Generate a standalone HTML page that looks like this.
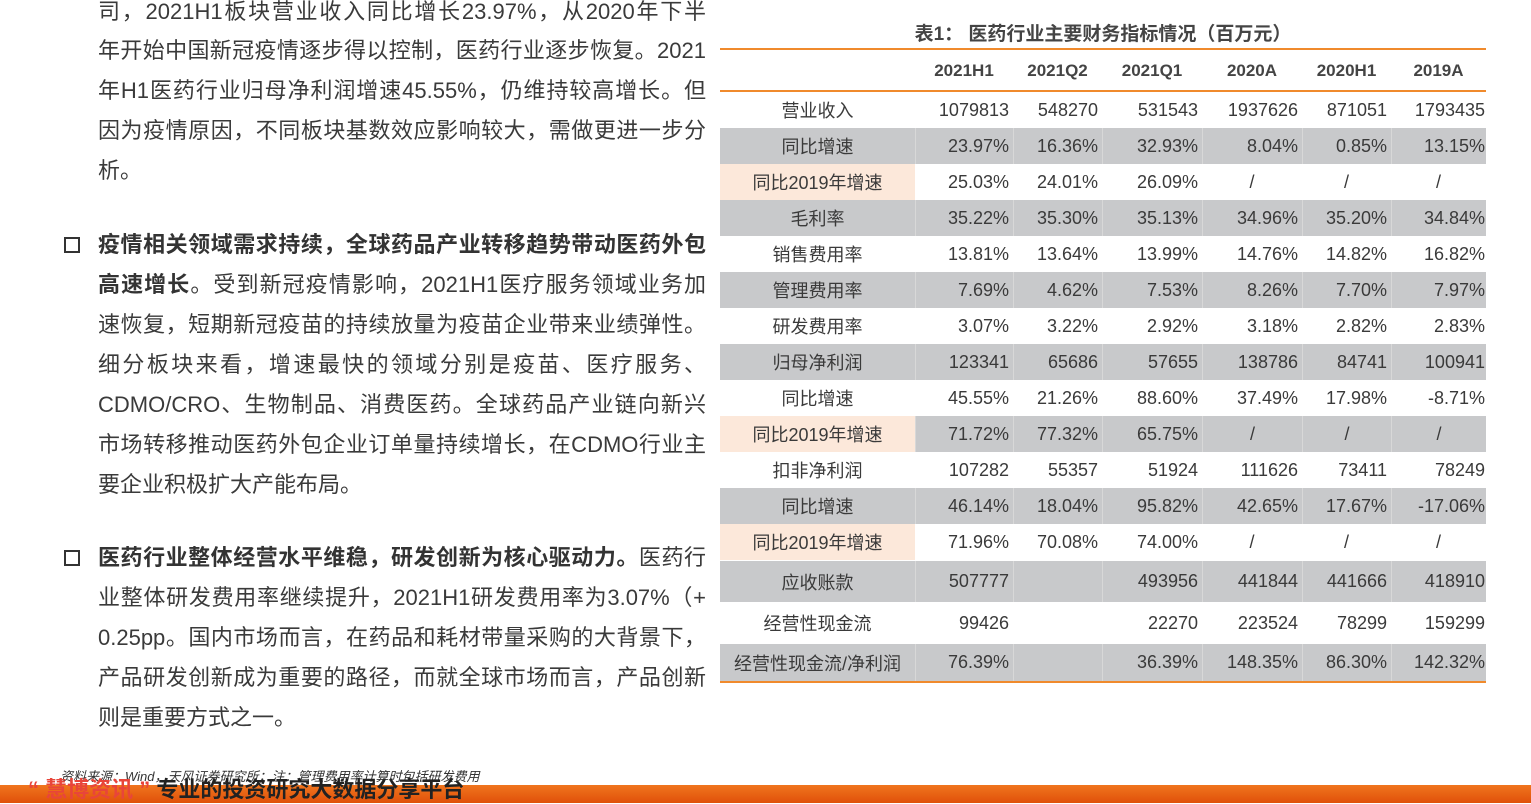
<!DOCTYPE html>
<html><head><meta charset="utf-8">
<style>
body{margin:0;width:1531px;height:803px;overflow:hidden;background:#fff;position:relative;font-family:"Liberation Sans","Noto Sans CJK SC",sans-serif;color:#3a3a3a}
.l{position:absolute;left:98px;width:608px;font-size:22px;line-height:26px;white-space:nowrap;text-align:justify;text-align-last:justify}
.nl{text-align-last:left}
b{font-weight:bold;color:#333}
.bx{position:absolute;left:64px;width:12px;height:12px;border:2.5px solid #333}
.row{position:absolute;left:720px;width:766px;height:36px;font-size:18px}
.row div{position:absolute;top:0;height:100%;display:flex;align-items:center;box-sizing:border-box}
.g{background:#c8c9cb}
.c0{left:0;width:195px;justify-content:center}
.p .c0{background:#fce8da}
.h{position:absolute;height:2px;background:#f08a2c;left:720px;width:766px}
</style></head><body>
<div class="l" style="top:-1px">司，2021H1板块营业收入同比增长23.97%，从2020年下半</div>
<div class="l" style="top:38px">年开始中国新冠疫情逐步得以控制，医药行业逐步恢复。2021</div>
<div class="l" style="top:78px">年H1医药行业归母净利润增速45.55%，仍维持较高增长。但</div>
<div class="l" style="top:118px">因为疫情原因，不同板块基数效应影响较大，需做更进一步分</div>
<div class="l nl" style="top:158px">析。</div>
<div class="bx" style="top:237px"></div>
<div class="l" style="top:232px"><b>疫情相关领域需求持续，全球药品产业转移趋势带动医药外包</b></div>
<div class="l" style="top:272px"><b>高速增长</b>。受到新冠疫情影响，2021H1医疗服务领域业务加</div>
<div class="l" style="top:312px">速恢复，短期新冠疫苗的持续放量为疫苗企业带来业绩弹性。</div>
<div class="l" style="top:352px">细分板块来看，增速最快的领域分别是疫苗、医疗服务、</div>
<div class="l" style="top:392px">CDMO/CRO、生物制品、消费医药。全球药品产业链向新兴</div>
<div class="l" style="top:432px">市场转移推动医药外包企业订单量持续增长，在CDMO行业主</div>
<div class="l nl" style="top:472px">要企业积极扩大产能布局。</div>
<div class="bx" style="top:550px"></div>
<div class="l" style="top:545px"><b>医药行业整体经营水平维稳，研发创新为核心驱动力。</b>医药行</div>
<div class="l" style="top:585px">业整体研发费用率继续提升，2021H1研发费用率为3.07%（+</div>
<div class="l" style="top:625px">0.25pp。国内市场而言，在药品和耗材带量采购的大背景下，</div>
<div class="l" style="top:665px">产品研发创新成为重要的路径，而就全球市场而言，产品创新</div>
<div class="l nl" style="top:705px">则是重要方式之一。</div>

<div style="position:absolute;left:720px;width:766px;top:19px;text-align:center;font-size:19px;font-weight:bold;color:#444">表1：&nbsp;医药行业主要财务指标情况（百万元）</div>
<div class="h" style="top:48px"></div>
<div class="h" style="top:90px"></div>
<div class="h" style="top:681px"></div>
<div id="tb"></div>

<div style="position:absolute;left:0;top:785px;width:1531px;height:18px;background:linear-gradient(#f0751e,#e0500a)"></div>
<div style="position:absolute;left:60px;top:766px;font-size:13px;font-style:italic;color:#333">资料来源：Wind，天风证券研究所；注：管理费用率计算时包括研发费用</div>
<div style="position:absolute;left:28px;top:772px;font-size:22px;font-weight:bold;color:#222;white-space:nowrap"><span style="color:#e8453a">“ 慧博资讯 ”</span> 专业的投资研究大数据分享平台</div>

<script>
var cols=[[195,293],[293,382],[382,482],[482,582],[582,671],[671,766]];
var rows=[
["",["2021H1","2021Q2","2021Q1","2020A","2020H1","2019A"],"hd",52,38],
["营业收入",["1079813","548270","531543","1937626","871051","1793435"],""],
["同比增速",["23.97%","16.36%","32.93%","8.04%","0.85%","13.15%"],"g"],
["同比2019年增速",["25.03%","24.01%","26.09%","/","/","/"],"p"],
["毛利率",["35.22%","35.30%","35.13%","34.96%","35.20%","34.84%"],"g"],
["销售费用率",["13.81%","13.64%","13.99%","14.76%","14.82%","16.82%"],""],
["管理费用率",["7.69%","4.62%","7.53%","8.26%","7.70%","7.97%"],"g"],
["研发费用率",["3.07%","3.22%","2.92%","3.18%","2.82%","2.83%"],""],
["归母净利润",["123341","65686","57655","138786","84741","100941"],"g"],
["同比增速",["45.55%","21.26%","88.60%","37.49%","17.98%","-8.71%"],""],
["同比2019年增速",["71.72%","77.32%","65.75%","/","/","/"],"g p"],
["扣非净利润",["107282","55357","51924","111626","73411","78249"],""],
["同比增速",["46.14%","18.04%","95.82%","42.65%","17.67%","-17.06%"],"g"],
["同比2019年增速",["71.96%","70.08%","74.00%","/","/","/"],"p"],
["应收账款",["507777","","493956","441844","441666","418910"],"g",561,41],
["经营性现金流",["99426","","22270","223524","78299","159299"],"",602,42],
["经营性现金流/净利润",["76.39%","","36.39%","148.35%","86.30%","142.32%"],"g",644,37]];
var h="",y=92;
rows.forEach(function(r,i){
 var top=r[3]!==undefined?r[3]:y, ht=r[4]||36;
 if(i>0&&r[3]===undefined){y+=36;}
 h+='<div class="row '+r[2]+'" style="top:'+top+'px;height:'+ht+'px'+(r[2]=="hd"?';font-weight:bold;font-size:17px;color:#444':'')+'"><div class="c0">'+r[0]+'</div>';
 r[1].forEach(function(v,j){
  var c=cols[j];var slash=v=="/";var ctr=r[2]=="hd"||slash;
  var pr=(j==5)?1:4;
  h+='<div style="left:'+c[0]+'px;width:'+(c[1]-c[0])+'px;padding-right:'+(ctr?0:pr)+'px;justify-content:'+(ctr?'center':'flex-end')+(r[2].indexOf("g")>=0?';border-left:1px solid #d8d8d8':'')+'">'+v+'</div>';
 });
 h+='</div>';
 if(i==0)y=92;
});
document.getElementById("tb").innerHTML=h;
</script>
</body></html>
